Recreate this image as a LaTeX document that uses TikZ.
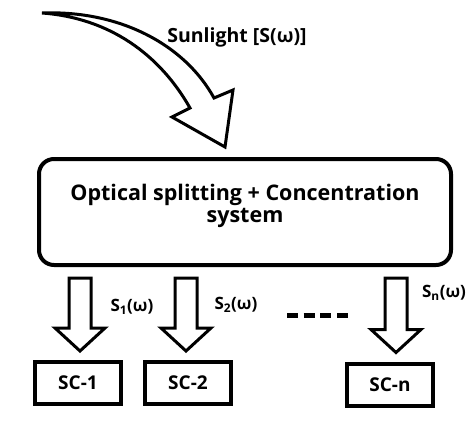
\documentclass[tikz,border=0pt]{standalone}
\usepackage{fontspec}
\setmainfont{Open Sans}[Ligatures=NoCommon]
\usetikzlibrary{calc}
\newcommand\blockarrow[2]{%
  \draw[barrow] let \p1=(#1), \p2=(#2) in
    (\x1-11pt,\y1) -- (\x1+11pt,\y1) -- (\x1+11pt,\y2+23pt) -- (\x1+25pt,\y2+23pt)
    -- (\x1,\y2) -- (\x1-25pt,\y2+23pt) -- (\x1-11pt,\y2+23pt) -- cycle;}
\begin{document}
\begin{tikzpicture}[x=1pt,y=-1pt,
  mainbox/.style={draw, line width=4pt, rounded corners=15pt, minimum width=412pt,
    minimum height=106pt, inner sep=0pt},
  maintext/.style={align=center, font=\fontsize{21.5}{22.5}\selectfont\bfseries, inner sep=0pt},
  scbox/.style={draw, line width=4pt, minimum width=86pt, minimum height=42pt,
    font=\fontsize{19}{19}\selectfont\bfseries, inner sep=0pt},
  barrow/.style={draw, line width=3pt, fill=white, line join=miter},
  lbl/.style={font=\fontsize{17}{17}\selectfont\bfseries, inner sep=0pt},
  sunarrow/.style={draw, line width=3pt, fill=white, line join=miter}]
\useasboundingbox (0,0) rectangle (474,421);
\fill[white] (0,0) rectangle (474,421);

\node[mainbox] (sys) at (245,212) {};
\node[maintext] (systxt) at (245,206) {Optical splitting + Concentration\\system};
\node[scbox] (sc1) at (78,383) {SC-1};
\node[scbox] (sc2) at (188,383) {SC-2};
\node[scbox] (scn) at (390,384.5) {SC-n};

% sunlight arrow
\coordinate (tail) at (42,13);
\coordinate (tip) at (225,147);
\draw[sunarrow] (tail) .. controls (120,10) and (185,45) .. (214,98)
  -- (233,90) -- (tip) -- (172,117) -- (190,108)
  .. controls (160,55) and (110,18) .. (tail) -- cycle;
\node[lbl, font=\fontsize{19.5}{20}\selectfont\bfseries] (sun) at (237,37) {Sunlight [S(ω)]};

% block arrows
\coordinate (a1s) at ($(sys.south -| sc1.north)+(2,11)$);
\coordinate (a1e) at ($(sc1.north)+(2,-9)$);
\coordinate (a2s) at ($(sys.south -| sc2.north)+(-2,11)$);
\coordinate (a2e) at ($(sc2.north)+(-2,-9)$);
\coordinate (ans) at ($(sys.south -| scn.north)+(6,11)$);
\coordinate (ane) at ($(scn.north)+(6,-9)$);
\blockarrow{a1s}{a1e}
\blockarrow{a2s}{a2e}
\blockarrow{ans}{ane}

\node[lbl] (l1) at (132,307) {S\textsubscript{1}(ω)};
\node[lbl] (l2) at (236,305) {S\textsubscript{2}(ω)};
\node[lbl] (ln) at (444,293) {S\textsubscript{n}(ω)};

\draw[line width=5pt, dash pattern=on 11pt off 5.67pt] (287,315) -- (348,315);
\end{tikzpicture}
\end{document}
